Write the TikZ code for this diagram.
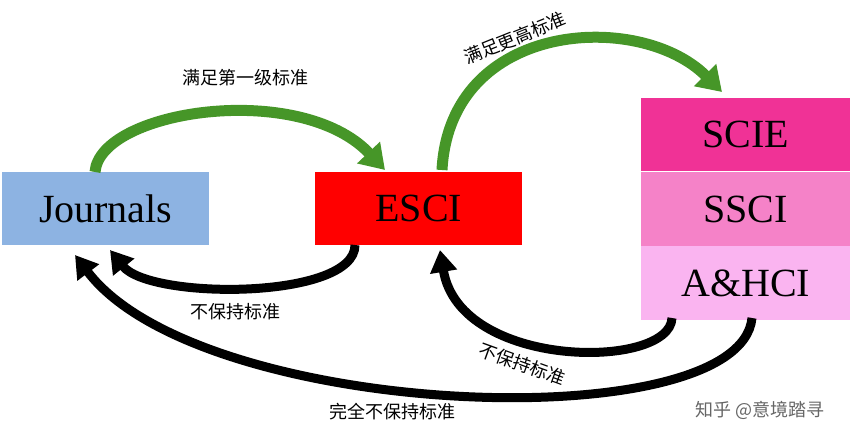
\documentclass[tikz,border=0pt]{standalone}
\usepackage{fontspec}
\setmainfont{Liberation Serif}
\newfontfamily\cjk{Noto Sans CJK SC}
\usetikzlibrary{arrows.meta}
\definecolor{jblue}{RGB}{141,179,226}
\definecolor{ered}{RGB}{255,0,0}
\definecolor{pk1}{RGB}{240,50,150}
\definecolor{pk2}{RGB}{245,130,200}
\definecolor{pk3}{RGB}{250,180,240}
\definecolor{agreen}{RGB}{70,150,40}
\tikzset{
 box/.style={minimum width=207pt,minimum height=73pt,inner sep=0pt,font=\fontsize{40}{42}\selectfont},
 garrow/.style={draw=agreen,line width=11pt,-{Triangle[width=30pt,length=24pt]}},
 barrow/.style={draw=black,line width=9pt,-{Triangle[width=26pt,length=22pt]}},
 lbl/.style={font=\cjk\fontsize{18}{20}\selectfont}
}
\begin{document}
\begin{tikzpicture}[x=1pt,y=-1pt]
\useasboundingbox (0,0) rectangle (863,447);
\node[box,fill=jblue,anchor=north west] (j) at (2,172) {Journals};
\node[box,fill=ered,anchor=north west] (e) at (315,172) {ESCI};
\node[box,fill=pk1,anchor=north west,minimum width=209pt] (s1) at (641,98) {SCIE};
\node[box,fill=pk2,anchor=north west,minimum width=209pt,minimum height=74pt] (s2) at (641,172) {SSCI};
\node[box,fill=pk3,anchor=north west,minimum width=209pt,minimum height=74pt] (s3) at (641,246) {A\&HCI};
\coordinate (ja) at (95,172);
\coordinate (eb) at (385,170);
\coordinate (ea) at (442,170);
\coordinate (sb) at (722,92);
\coordinate (ec) at (355,245);
\coordinate (jb) at (110,250);
\coordinate (sc) at (672,318);
\coordinate (ed) at (440,250);
\coordinate (sd) at (752,318);
\coordinate (jc) at (75,255);
\draw[garrow] (ja) .. controls (100,110) and (300,80) .. (eb);
\draw[garrow] (ea) .. controls (450,20) and (640,10) .. (sb);
\draw[barrow] (ec) .. controls (355,300) and (150,300) .. (jb);
\draw[barrow] (sc) .. controls (670,370) and (460,370) .. (ed);
\draw[barrow] (sd) .. controls (740,440) and (200,420) .. (jc);
\node[lbl] (l1) at (245,78) {满足第一级标准};
\node[lbl,rotate=22] (l2) at (515,38) {满足更高标准};
\node[lbl] (l3) at (235,312) {不保持标准};
\node[lbl,rotate=-20] (l4) at (522,364) {不保持标准};
\node[lbl] (l5) at (392,412) {完全不保持标准};
\node[font=\cjk\fontsize{18}{20}\selectfont,text=black!60] (w) at (760,410) {知乎 @意境踏寻};
\end{tikzpicture}
\end{document}
